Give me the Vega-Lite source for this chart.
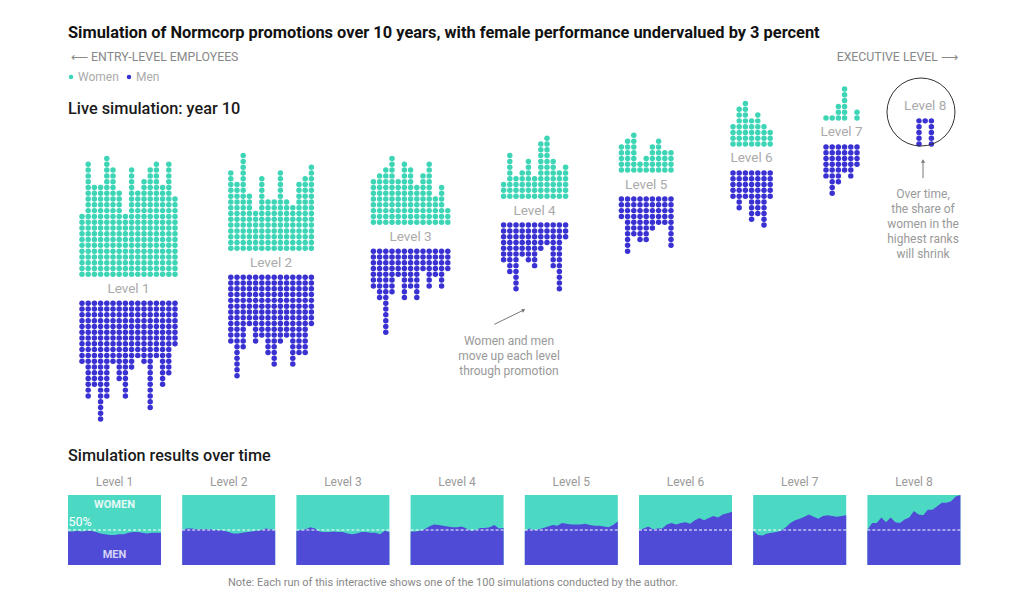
{
"$schema": "https://vega.github.io/schema/vega-lite/v6.json",
"padding": 0,
"background": "white",
"config": {"view": {"stroke": null}, "font": "Roboto"},
"title": {"text": "Note: Each run of this interactive shows one of the 100 simulations conducted by the author.", "orient": "bottom", "anchor": "start", "frame": "bounds", "dx": 228, "fontSize": 11, "fontWeight": "normal", "color": "#888", "offset": 12},
"spacing": 8,
"datasets": {
"dots": [
{"lv":"Level 1","g":"Women","x":0,"y":[0,1,2,3,4,5,6,7,8,9,10]},
{"lv":"Level 1","g":"Women","x":1,"y":[0,1,2,3,4,5,6,7,8,9,10,11,12,13,14,15,16,17,18,19]},
{"lv":"Level 1","g":"Women","x":2,"y":[0,1,2,3,4,5,6,7,8,9,10,11,12,13,14,15]},
{"lv":"Level 1","g":"Women","x":3,"y":[0,1,2,3,4,5,6,7,8,9,10,11,12,13,14,15]},
{"lv":"Level 1","g":"Women","x":4,"y":[0,1,2,3,4,5,6,7,8,9,10,11,12,13,14,15,16,17,18,19,20]},
{"lv":"Level 1","g":"Women","x":5,"y":[0,1,2,3,4,5,6,7,8,9,10,11,12,13,14,15,16,17,18]},
{"lv":"Level 1","g":"Women","x":6,"y":[0,1,2,3,4,5,6,7,8,9,10,11,12,13,14]},
{"lv":"Level 1","g":"Women","x":7,"y":[0,1,2,3,4,5,6,7,8,9,10]},
{"lv":"Level 1","g":"Women","x":8,"y":[0,1,2,3,4,5,6,7,8,9,10,11,12,13,14,15,16,17,18]},
{"lv":"Level 1","g":"Women","x":9,"y":[0,1,2,3,4,5,6,7,8,9,10,11,12,13,14]},
{"lv":"Level 1","g":"Women","x":10,"y":[0,1,2,3,4,5,6,7,8,9,10,11,12,13,14,15,16]},
{"lv":"Level 1","g":"Women","x":11,"y":[0,1,2,3,4,5,6,7,8,9,10,11,12,13,14,15,16,17,18]},
{"lv":"Level 1","g":"Women","x":12,"y":[0,1,2,3,4,5,6,7,8,9,10,11,12,13,14,15,16,17,18,19]},
{"lv":"Level 1","g":"Women","x":13,"y":[0,1,2,3,4,5,6,7,8,9,10,11,12,13,14,15]},
{"lv":"Level 1","g":"Women","x":14,"y":[0,1,2,3,4,5,6,7,8,9,10,11,12,13,14,15,16,17,18,19]},
{"lv":"Level 1","g":"Women","x":15,"y":[0,1,2,3,4,5,6,7,8,9,10,11,12,13]},
{"lv":"Level 1","g":"Men","x":0,"y":[-5,-6,-7,-8,-9,-10,-11,-12,-13,-14,-15]},
{"lv":"Level 1","g":"Men","x":1,"y":[-5,-6,-7,-8,-9,-10,-11,-12,-13,-14,-15,-16,-17,-18,-19,-20,-21]},
{"lv":"Level 1","g":"Men","x":2,"y":[-5,-6,-7,-8,-9,-10,-11,-12,-13,-14,-15,-16,-17,-18,-19]},
{"lv":"Level 1","g":"Men","x":3,"y":[-5,-6,-7,-8,-9,-10,-11,-12,-13,-14,-15,-16,-17,-18,-19,-20,-21,-22,-23,-24,-25]},
{"lv":"Level 1","g":"Men","x":4,"y":[-5,-6,-7,-8,-9,-10,-11,-12,-13,-14,-15,-16,-17,-18,-19,-20,-21]},
{"lv":"Level 1","g":"Men","x":5,"y":[-5,-6,-7,-8,-9,-10,-11,-12,-13,-14,-15]},
{"lv":"Level 1","g":"Men","x":6,"y":[-5,-6,-7,-8,-9,-10,-11,-12,-13,-14,-15,-16,-17,-18]},
{"lv":"Level 1","g":"Men","x":7,"y":[-5,-6,-7,-8,-9,-10,-11,-12,-13,-14,-15,-16,-17,-18,-19,-20,-21]},
{"lv":"Level 1","g":"Men","x":8,"y":[-5,-6,-7,-8,-9,-10,-11,-12,-13,-14,-15,-16]},
{"lv":"Level 1","g":"Men","x":9,"y":[-5,-6,-7,-8,-9,-10,-11,-12,-13,-14]},
{"lv":"Level 1","g":"Men","x":10,"y":[-5,-6,-7,-8,-9,-10,-11,-12,-13,-14,-15]},
{"lv":"Level 1","g":"Men","x":11,"y":[-5,-6,-7,-8,-9,-10,-11,-12,-13,-14,-15,-16,-17,-18,-19,-20,-21,-22,-23]},
{"lv":"Level 1","g":"Men","x":12,"y":[-5,-6,-7,-8,-9,-10,-11,-12,-13,-14]},
{"lv":"Level 1","g":"Men","x":13,"y":[-5,-6,-7,-8,-9,-10,-11,-12,-13,-14,-15,-16,-17,-18,-19]},
{"lv":"Level 1","g":"Men","x":14,"y":[-5,-6,-7,-8,-9,-10,-11,-12,-13,-14,-15,-16,-17]},
{"lv":"Level 1","g":"Men","x":15,"y":[-5,-6,-7,-8,-9,-10,-11,-12]},
{"lv":"Level 2","g":"Women","x":24,"y":[4.5,5.5,6.5,7.5,8.5,9.5,10.5,11.5,12.5,13.5,14.5,15.5,16.5,17.5]},
{"lv":"Level 2","g":"Women","x":25,"y":[4.5,5.5,6.5,7.5,8.5,9.5,10.5,11.5,12.5,13.5,14.5,15.5]},
{"lv":"Level 2","g":"Women","x":26,"y":[4.5,5.5,6.5,7.5,8.5,9.5,10.5,11.5,12.5,13.5,14.5,15.5,16.5,17.5,18.5,19.5,20.5]},
{"lv":"Level 2","g":"Women","x":27,"y":[4.5,5.5,6.5,7.5,8.5,9.5,10.5,11.5,12.5,13.5]},
{"lv":"Level 2","g":"Women","x":28,"y":[4.5,5.5,6.5,7.5,8.5,9.5,10.5]},
{"lv":"Level 2","g":"Women","x":29,"y":[4.5,5.5,6.5,7.5,8.5,9.5,10.5,11.5,12.5,13.5,14.5,15.5,16.5]},
{"lv":"Level 2","g":"Women","x":30,"y":[4.5,5.5,6.5,7.5,8.5,9.5,10.5,11.5,12.5]},
{"lv":"Level 2","g":"Women","x":31,"y":[4.5,5.5,6.5,7.5,8.5,9.5,10.5,11.5,12.5]},
{"lv":"Level 2","g":"Women","x":32,"y":[4.5,5.5,6.5,7.5,8.5,9.5,10.5,11.5,12.5,13.5,14.5,15.5,16.5,17.5]},
{"lv":"Level 2","g":"Women","x":33,"y":[4.5,5.5,6.5,7.5,8.5,9.5,10.5,11.5,12.5]},
{"lv":"Level 2","g":"Women","x":34,"y":[4.5,5.5,6.5,7.5,8.5,9.5,10.5,11.5]},
{"lv":"Level 2","g":"Women","x":35,"y":[4.5,5.5,6.5,7.5,8.5,9.5,10.5,11.5,12.5,13.5,14.5,15.5]},
{"lv":"Level 2","g":"Women","x":36,"y":[4.5,5.5,6.5,7.5,8.5,9.5,10.5,11.5,12.5,13.5,14.5,15.5,16.5]},
{"lv":"Level 2","g":"Women","x":37,"y":[4.5,5.5,6.5,7.5,8.5,9.5,10.5,11.5,12.5,13.5,14.5,15.5,16.5,17.5,18.5]},
{"lv":"Level 2","g":"Men","x":24,"y":[-0.5,-1.5,-2.5,-3.5,-4.5,-5.5,-6.5,-7.5,-8.5,-9.5,-10.5,-11.5]},
{"lv":"Level 2","g":"Men","x":25,"y":[-0.5,-1.5,-2.5,-3.5,-4.5,-5.5,-6.5,-7.5,-8.5,-9.5,-10.5,-11.5,-12.5,-13.5,-14.5,-15.5,-16.5,-17.5]},
{"lv":"Level 2","g":"Men","x":26,"y":[-0.5,-1.5,-2.5,-3.5,-4.5,-5.5,-6.5,-7.5,-8.5,-9.5,-10.5,-11.5,-12.5]},
{"lv":"Level 2","g":"Men","x":27,"y":[-0.5,-1.5,-2.5,-3.5,-4.5,-5.5,-6.5,-7.5,-8.5]},
{"lv":"Level 2","g":"Men","x":28,"y":[-0.5,-1.5,-2.5,-3.5,-4.5,-5.5,-6.5,-7.5,-8.5,-9.5,-10.5,-11.5]},
{"lv":"Level 2","g":"Men","x":29,"y":[-0.5,-1.5,-2.5,-3.5,-4.5,-5.5,-6.5,-7.5,-8.5,-9.5,-10.5]},
{"lv":"Level 2","g":"Men","x":30,"y":[-0.5,-1.5,-2.5,-3.5,-4.5,-5.5,-6.5,-7.5,-8.5,-9.5,-10.5,-11.5,-12.5,-13.5]},
{"lv":"Level 2","g":"Men","x":31,"y":[-0.5,-1.5,-2.5,-3.5,-4.5,-5.5,-6.5,-7.5,-8.5,-9.5,-10.5,-11.5,-12.5,-13.5,-14.5,-15.5]},
{"lv":"Level 2","g":"Men","x":32,"y":[-0.5,-1.5,-2.5,-3.5,-4.5,-5.5,-6.5,-7.5,-8.5,-9.5,-10.5,-11.5]},
{"lv":"Level 2","g":"Men","x":33,"y":[-0.5,-1.5,-2.5,-3.5,-4.5,-5.5,-6.5,-7.5,-8.5,-9.5,-10.5]},
{"lv":"Level 2","g":"Men","x":34,"y":[-0.5,-1.5,-2.5,-3.5,-4.5,-5.5,-6.5,-7.5,-8.5,-9.5,-10.5,-11.5,-12.5,-13.5,-14.5,-15.5]},
{"lv":"Level 2","g":"Men","x":35,"y":[-0.5,-1.5,-2.5,-3.5,-4.5,-5.5,-6.5,-7.5,-8.5,-9.5,-10.5,-11.5,-12.5,-13.5]},
{"lv":"Level 2","g":"Men","x":36,"y":[-0.5,-1.5,-2.5,-3.5,-4.5,-5.5,-6.5,-7.5,-8.5,-9.5,-10.5,-11.5,-12.5,-13.5]},
{"lv":"Level 2","g":"Men","x":37,"y":[-0.5,-1.5,-2.5,-3.5,-4.5,-5.5,-6.5,-7.5,-8.5]},
{"lv":"Level 3","g":"Women","x":47,"y":[9,10,11,12,13,14,15,16]},
{"lv":"Level 3","g":"Women","x":48,"y":[9,10,11,12,13,14,15,16,17]},
{"lv":"Level 3","g":"Women","x":49,"y":[9,10,11,12,13,14,15,16,17,18]},
{"lv":"Level 3","g":"Women","x":50,"y":[9,10,11,12,13,14,15,16,17,18,19,20]},
{"lv":"Level 3","g":"Women","x":51,"y":[9,10,11,12,13,14,15,16]},
{"lv":"Level 3","g":"Women","x":52,"y":[9,10,11,12,13,14,15,16,17,18,19]},
{"lv":"Level 3","g":"Women","x":53,"y":[9,10,11,12,13,14,15,16,17,18]},
{"lv":"Level 3","g":"Women","x":54,"y":[9,10,11,12,13,14,15]},
{"lv":"Level 3","g":"Women","x":55,"y":[9,10,11,12,13,14,15,16,17]},
{"lv":"Level 3","g":"Women","x":56,"y":[9,10,11,12,13,14,15,16,17,18,19]},
{"lv":"Level 3","g":"Women","x":57,"y":[9,10,11,12,13]},
{"lv":"Level 3","g":"Women","x":58,"y":[9,10,11,12,13,14,15]},
{"lv":"Level 3","g":"Women","x":59,"y":[9,10,11]},
{"lv":"Level 3","g":"Men","x":47,"y":[4,3,2,1,0,-1,-2]},
{"lv":"Level 3","g":"Men","x":48,"y":[4,3,2,1,0,-1,-2,-3,-4]},
{"lv":"Level 3","g":"Men","x":49,"y":[4,3,2,1,0,-1,-2,-3,-4,-5,-6,-7,-8,-9,-10]},
{"lv":"Level 3","g":"Men","x":50,"y":[4,3,2,1,0,-1,-2,-3]},
{"lv":"Level 3","g":"Men","x":51,"y":[4,3,2,1,0]},
{"lv":"Level 3","g":"Men","x":52,"y":[4,3,2,1,0,-1,-2,-3,-4]},
{"lv":"Level 3","g":"Men","x":53,"y":[4,3,2,1,0,-1,-2]},
{"lv":"Level 3","g":"Men","x":54,"y":[4,3,2,1,0,-1,-2,-3,-4]},
{"lv":"Level 3","g":"Men","x":55,"y":[4,3,2,1]},
{"lv":"Level 3","g":"Men","x":56,"y":[4,3,2,1,0,-1,-2]},
{"lv":"Level 3","g":"Men","x":57,"y":[4,3,2,1,0]},
{"lv":"Level 3","g":"Men","x":58,"y":[4,3,2,1,0,-1,-2]},
{"lv":"Level 3","g":"Men","x":59,"y":[4,3,2,1]},
{"lv":"Level 4","g":"Women","x":68,"y":[13.5,14.5,15.5]},
{"lv":"Level 4","g":"Women","x":69,"y":[13.5,14.5,15.5,16.5,17.5,18.5,19.5,20.5]},
{"lv":"Level 4","g":"Women","x":70,"y":[13.5,14.5,15.5,16.5]},
{"lv":"Level 4","g":"Women","x":71,"y":[13.5,14.5,15.5,16.5,17.5]},
{"lv":"Level 4","g":"Women","x":72,"y":[13.5,14.5,15.5,16.5,17.5,18.5,19.5]},
{"lv":"Level 4","g":"Women","x":73,"y":[13.5,14.5,15.5,16.5]},
{"lv":"Level 4","g":"Women","x":74,"y":[13.5,14.5,15.5,16.5,17.5,18.5,19.5,20.5,21.5,22.5]},
{"lv":"Level 4","g":"Women","x":75,"y":[13.5,14.5,15.5,16.5,17.5,18.5,19.5,20.5,21.5,22.5,23.5]},
{"lv":"Level 4","g":"Women","x":76,"y":[13.5,14.5,15.5,16.5,17.5,18.5,19.5]},
{"lv":"Level 4","g":"Women","x":77,"y":[13.5,14.5,15.5,16.5,17.5]},
{"lv":"Level 4","g":"Women","x":78,"y":[13.5,14.5,15.5,16.5,17.5,18.5]},
{"lv":"Level 4","g":"Men","x":68,"y":[8.5,7.5,6.5,5.5,4.5,3.5,2.5]},
{"lv":"Level 4","g":"Men","x":69,"y":[8.5,7.5,6.5,5.5,4.5,3.5,2.5,1.5,0.5]},
{"lv":"Level 4","g":"Men","x":70,"y":[8.5,7.5,6.5,5.5,4.5,3.5,2.5,1.5,0.5,-0.5,-1.5,-2.5]},
{"lv":"Level 4","g":"Men","x":71,"y":[8.5,7.5,6.5,5.5,4.5,3.5]},
{"lv":"Level 4","g":"Men","x":72,"y":[8.5,7.5,6.5,5.5,4.5,3.5,2.5]},
{"lv":"Level 4","g":"Men","x":73,"y":[8.5,7.5,6.5,5.5,4.5,3.5,2.5,1.5]},
{"lv":"Level 4","g":"Men","x":74,"y":[8.5,7.5,6.5,5.5,4.5]},
{"lv":"Level 4","g":"Men","x":75,"y":[8.5,7.5,6.5,5.5]},
{"lv":"Level 4","g":"Men","x":76,"y":[8.5,7.5,6.5,5.5,4.5,3.5,2.5,1.5]},
{"lv":"Level 4","g":"Men","x":77,"y":[8.5,7.5,6.5,5.5,4.5,3.5,2.5,1.5,0.5,-0.5,-1.5,-2.5]},
{"lv":"Level 4","g":"Men","x":78,"y":[8.5,7.5,6.5]},
{"lv":"Level 5","g":"Women","x":87,"y":[18,19,20,21,22]},
{"lv":"Level 5","g":"Women","x":88,"y":[18,19,20,21,22,23]},
{"lv":"Level 5","g":"Women","x":89,"y":[18,19,20,21,22,23,24]},
{"lv":"Level 5","g":"Women","x":90,"y":[18,19]},
{"lv":"Level 5","g":"Women","x":91,"y":[18,19,20]},
{"lv":"Level 5","g":"Women","x":92,"y":[18,19,20,21,22]},
{"lv":"Level 5","g":"Women","x":93,"y":[18,19,20,21,22,23]},
{"lv":"Level 5","g":"Women","x":94,"y":[18,19,20,21]},
{"lv":"Level 5","g":"Women","x":95,"y":[18,19,20,21]},
{"lv":"Level 5","g":"Men","x":87,"y":[13,12,11,10]},
{"lv":"Level 5","g":"Men","x":88,"y":[13,12,11,10,9,8,7,6,5,4]},
{"lv":"Level 5","g":"Men","x":89,"y":[13,12,11,10,9,8,7]},
{"lv":"Level 5","g":"Men","x":90,"y":[13,12,11,10,9,8,7,6]},
{"lv":"Level 5","g":"Men","x":91,"y":[13,12,11,10,9,8,7,6]},
{"lv":"Level 5","g":"Men","x":92,"y":[13,12,11,10,9,8]},
{"lv":"Level 5","g":"Men","x":93,"y":[13,12,11,10,9]},
{"lv":"Level 5","g":"Men","x":94,"y":[13,12,11,10,9]},
{"lv":"Level 5","g":"Men","x":95,"y":[13,12,11,10,9,8,7,6,5]},
{"lv":"Level 6","g":"Women","x":105,"y":[22.5,23.5,24.5,25.5]},
{"lv":"Level 6","g":"Women","x":106,"y":[22.5,23.5,24.5,25.5,26.5,27.5,28.5]},
{"lv":"Level 6","g":"Women","x":107,"y":[22.5,23.5,24.5,25.5,26.5,27.5,28.5,29.5]},
{"lv":"Level 6","g":"Women","x":108,"y":[22.5,23.5,24.5,25.5,26.5]},
{"lv":"Level 6","g":"Women","x":109,"y":[22.5,23.5,24.5,25.5,26.5,27.5]},
{"lv":"Level 6","g":"Women","x":110,"y":[22.5,23.5,24.5,25.5]},
{"lv":"Level 6","g":"Women","x":111,"y":[22.5,23.5,24.5]},
{"lv":"Level 6","g":"Men","x":105,"y":[17.5,16.5,15.5,14.5,13.5]},
{"lv":"Level 6","g":"Men","x":106,"y":[17.5,16.5,15.5,14.5,13.5,12.5,11.5]},
{"lv":"Level 6","g":"Men","x":107,"y":[17.5,16.5,15.5,14.5,13.5]},
{"lv":"Level 6","g":"Men","x":108,"y":[17.5,16.5,15.5,14.5,13.5,12.5,11.5,10.5,9.5]},
{"lv":"Level 6","g":"Men","x":109,"y":[17.5,16.5,15.5,14.5,13.5,12.5,11.5,10.5]},
{"lv":"Level 6","g":"Men","x":110,"y":[17.5,16.5,15.5,14.5,13.5,12.5,11.5,10.5,9.5,8.5]},
{"lv":"Level 6","g":"Men","x":111,"y":[17.5,16.5,15.5,14.5,13.5]},
{"lv":"Level 7","g":"Women","x":120,"y":[27]},
{"lv":"Level 7","g":"Women","x":121,"y":[27]},
{"lv":"Level 7","g":"Women","x":122,"y":[27,28,29]},
{"lv":"Level 7","g":"Women","x":123,"y":[27,28,29,30,31,32]},
{"lv":"Level 7","g":"Women","x":125,"y":[27,28]},
{"lv":"Level 7","g":"Men","x":120,"y":[22,21,20,19,18,17]},
{"lv":"Level 7","g":"Men","x":121,"y":[22,21,20,19,18,17,16,15,14]},
{"lv":"Level 7","g":"Men","x":122,"y":[22,21,20,19,18,17,16]},
{"lv":"Level 7","g":"Men","x":123,"y":[22,21,20,19,18]},
{"lv":"Level 7","g":"Men","x":124,"y":[22,21,20,19,18,17]},
{"lv":"Level 7","g":"Men","x":125,"y":[22,21,20,19]},
{"lv":"Level 8","g":"Men","x":135,"y":[26.5,25.5,24.5,23.5,22.5]},
{"lv":"Level 8","g":"Men","x":136,"y":[26.5]},
{"lv":"Level 8","g":"Men","x":137,"y":[26.5,25.5,24.5,23.5,22.5]}
],
"areas": [
{"lv":1,"t":[0,1,2,3,4,5,6,7,8,9,10,11,12,13,14,15,16,17,18,19,20],"men":[48,48,49,48,49,49,47,45,44,43,43,44,44,46,47,47,46,45,46,46,46]},
{"lv":2,"t":[0,1,2,3,4,5,6,7,8,9,10,11,12,13,14,15,16,17,18,19,20],"men":[50,52,52,51,51,51,51,50,50,49,47,45,45,46,47,48,49,50,52,51,50]},
{"lv":3,"t":[0,1,2,3,4,5,6,7,8,9,10,11,12,13,14,15,16,17,18,19,20],"men":[49,50,51,54,52,48,47,47,48,47,47,45,44,45,47,47,46,46,44,49,47]},
{"lv":4,"t":[0,1,2,3,4,5,6,7,8,9,10,11,12,13,14,15,16,17,18,19,20],"men":[48,48,49,51,55,58,57,56,55,54,54,55,52,49,50,53,53,54,57,52,53]},
{"lv":5,"t":[0,1,2,3,4,5,6,7,8,9,10,11,12,13,14,15,16,17,18,19,20],"men":[49,52,50,51,53,55,57,56,60,59,58,58,58,59,57,56,56,55,54,57,62]},
{"lv":6,"t":[0,1,2,3,4,5,6,7,8,9,10,11,12,13,14,15,16,17,18,19,20],"men":[50,52,55,51,52,52,58,60,58,60,61,59,64,67,64,67,70,68,72,74,76]},
{"lv":7,"t":[0,1,2,3,4,5,6,7,8,9,10,11,12,13,14,15,16,17,18,19,20],"men":[49,43,42,45,46,47,49,54,60,64,66,69,72,69,66,70,71,70,69,70,71]},
{"lv":8,"t":[0,1,2,3,4,5,6,7,8,9,10,11,12,13,14,15,16,17,18,19,20],"men":[50,60,60,68,61,68,61,60,65,68,77,72,71,79,79,84,89,89,91,98,100]}
]
},
"vconcat": [
{
"width": 957,
"height": 468,
"layer": [
{
"data": {"name": "dots"},
"transform": [{"flatten": ["y"]}],
"mark": {"type": "circle", "size": 30, "opacity": 1},
"encoding": {
"x": {"field": "x", "type": "quantitative", "scale": {"domain": [-2.258, 152.0968], "nice": false, "zero": false}, "axis": null},
"y": {"field": "y", "type": "quantitative", "scale": {"domain": [-33.45, 47.375], "nice": false, "zero": false}, "axis": null},
"color": {"field": "g", "type": "nominal", "scale": {"domain": ["Women", "Men"], "range": ["#3dd5b5", "#3a31d2"]},
"legend": {"orient": "none", "legendX": -3, "legendY": 71, "direction": "horizontal", "title": null, "symbolType": "circle", "symbolSize": 20, "labelColor": "#aaa", "labelFontSize": 12, "labelFont": "Roboto", "columnPadding": 4, "labelOffset": 1, "padding": 0}}
}
},
{
"data": {"name": "dots"},
"transform": [
{"filter": "datum.g == 'Men'"},
{"flatten": ["y"]},
{"aggregate": [{"op": "max", "field": "y", "as": "top"}], "groupby": ["lv", "x"]},
{"aggregate": [{"op": "mean", "field": "x", "as": "cx"}, {"op": "max", "field": "top", "as": "top"}], "groupby": ["lv"]}
],
"mark": {"type": "text", "dy": -14.5, "fontSize": 13.5, "color": "#aaa", "baseline": "middle", "align": "center"},
"encoding": {
"x": {"field": "cx", "type": "quantitative"},
"y": {"field": "top", "type": "quantitative"},
"text": {"field": "lv"}
}
},
{
"data": {"values": [{}]},
"mark": {"type": "text", "align": "left", "baseline": "middle", "fontSize": 16.4, "fontWeight": "bold", "color": "#121212"},
"encoding": {"x": {"datum": -2.258}, "y": {"datum": 41.675}, "text": {"value": "Simulation of Normcorp promotions over 10 years, with female performance undervalued by 3 percent"}}
},
{
"data": {"values": [{}]},
"mark": {"type": "text", "align": "left", "baseline": "middle", "fontSize": 12.3, "color": "#888"},
"encoding": {"x": {"datum": -1.774}, "y": {"datum": 37.53}, "text": {"value": "⟵ ENTRY-LEVEL EMPLOYEES"}}
},
{
"data": {"values": [{}]},
"mark": {"type": "text", "align": "right", "baseline": "middle", "fontSize": 12.3, "color": "#888"},
"encoding": {"x": {"datum": 141.29}, "y": {"datum": 37.53}, "text": {"value": "EXECUTIVE LEVEL ⟶"}}
},
{
"data": {"values": [{}]},
"mark": {"type": "text", "align": "left", "baseline": "middle", "fontSize": 16.3, "fontWeight": 500, "color": "#1a1a1a"},
"encoding": {"x": {"datum": -2.258}, "y": {"datum": 28.55}, "text": {"value": "Live simulation: year 10"}}
},
{
"data": {"values": [{}]},
"mark": {"type": "text", "align": "left", "baseline": "middle", "fontSize": 16.2, "fontWeight": 500, "color": "#1a1a1a"},
"encoding": {"x": {"datum": -2.258}, "y": {"datum": -31.38}, "text": {"value": "Simulation results over time"}}
},
{
"data": {"values": [{}]},
"mark": {"type": "text", "align": "center", "baseline": "top", "fontSize": 12, "lineHeight": 15, "color": "#999"},
"encoding": {"x": {"datum": 68.87}, "y": {"datum": -10.6}, "text": {"value": ["Women and men", "move up each level", "through promotion"]}}
},
{
"data": {"values": [{}]},
"mark": {"type": "rule", "color": "#777", "strokeWidth": 1},
"encoding": {"x": {"datum": 66.5}, "y": {"datum": -8.64}, "x2": {"datum": 71.24}, "y2": {"datum": -6.17}}
},
{
"data": {"values": [{}]},
"mark": {"type": "point", "shape": "triangle-up", "size": 18, "filled": true, "color": "#777", "angle": 64, "opacity": 1},
"encoding": {"x": {"datum": 71.24}, "y": {"datum": -6.17}}
},
{
"data": {"values": [{}]},
"mark": {"type": "point", "shape": "circle", "size": 4624, "filled": false, "stroke": "#333", "strokeWidth": 1, "opacity": 1},
"encoding": {"x": {"datum": 135.32}, "y": {"datum": 28.03}}
},
{
"data": {"values": [{}]},
"mark": {"type": "rule", "color": "#777", "strokeWidth": 1},
"encoding": {"x": {"datum": 135.65}, "y": {"datum": 16.6}, "y2": {"datum": 19.57}}
},
{
"data": {"values": [{}]},
"mark": {"type": "point", "shape": "triangle-up", "size": 18, "filled": true, "color": "#777", "opacity": 1},
"encoding": {"x": {"datum": 135.65}, "y": {"datum": 19.57}}
},
{
"data": {"values": [{}]},
"mark": {"type": "text", "align": "center", "baseline": "top", "fontSize": 12, "lineHeight": 15, "color": "#999"},
"encoding": {"x": {"datum": 135.65}, "y": {"datum": 14.73}, "text": {"value": ["Over time,", "the share of", "women in the", "highest ranks", "will shrink"]}}
}
]
},
{
"data": {"name": "areas"},
"transform": [{"flatten": ["t", "men"]}],
"facet": {"column": {"field": "lv", "type": "ordinal", "header": {"title": null, "labelExpr": "'Level ' + datum.value", "labelFontSize": 12, "labelColor": "#9a9a9a", "labelPadding": 6, "labelFont": "Roboto"}}},
"spacing": 19.2,
"spec": {
"width": 93,
"height": 70,
"view": {"fill": "#4cd9c3", "stroke": null},
"layer": [
{
"mark": {"type": "area", "color": "#4f4bd6", "opacity": 1},
"encoding": {
"x": {"field": "t", "type": "quantitative", "scale": {"domain": [0, 20], "nice": false, "zero": false}, "axis": null},
"y": {"field": "men", "type": "quantitative", "scale": {"domain": [0, 100], "nice": false}, "axis": {"labels": false, "ticks": false, "domain": false, "grid": false, "title": null, "minExtent": 67, "maxExtent": 67}}
}
},
{
"transform": [{"filter": "datum.t == 0"}],
"mark": {"type": "rule", "color": "white", "strokeDash": [3, 2], "strokeWidth": 1},
"encoding": {"y": {"datum": 50}}
},
{
"transform": [{"filter": "datum.lv == 1 && datum.t == 0"}],
"mark": {"type": "text", "align": "center", "baseline": "middle", "fontSize": 11, "fontWeight": "bold", "color": "#e4f8f4"},
"encoding": {"x": {"datum": 10}, "y": {"datum": 86}, "text": {"value": "WOMEN"}}
},
{
"transform": [{"filter": "datum.lv == 1 && datum.t == 0"}],
"mark": {"type": "text", "align": "center", "baseline": "middle", "fontSize": 11, "fontWeight": "bold", "color": "#d6d5f6"},
"encoding": {"x": {"datum": 10}, "y": {"datum": 14.5}, "text": {"value": "MEN"}}
},
{
"transform": [{"filter": "datum.lv == 1 && datum.t == 0"}],
"mark": {"type": "text", "align": "left", "baseline": "middle", "fontSize": 12.5, "color": "white"},
"encoding": {"x": {"datum": 0.1}, "y": {"datum": 62}, "text": {"value": "50%"}}
}
]
}
}
]
}
